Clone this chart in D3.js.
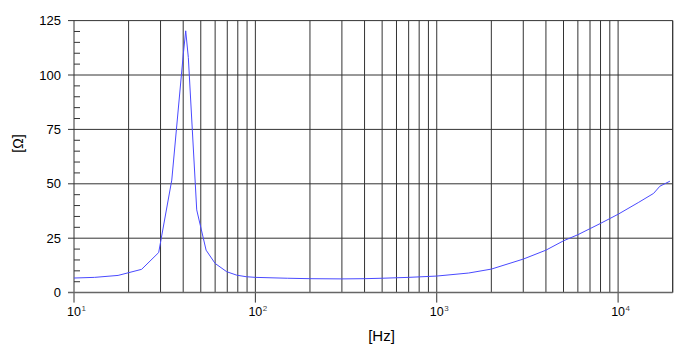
<!DOCTYPE html>
<html><head><meta charset="utf-8">
<script src="https://cdn.jsdelivr.net/npm/d3@7"></script>
<style>body{margin:0;background:#fff}svg{display:block}text{font-family:"Liberation Sans",Arial,sans-serif}</style>
</head><body>
<svg id="c" width="688" height="360"></svg>
<script>
const freq = [10, 13, 17.5, 23.6, 29.3, 34.6, 40.1, 41.3, 42.7, 47.5, 53.5, 60, 69.5, 79, 89, 100, 150, 200, 300, 400, 500, 700, 1000, 1500, 2000, 3000, 4000, 5000, 6000, 8000, 10000, 13000, 15700, 17000, 19300];
const impedance = [6.7, 7.0, 7.9, 10.7, 18.4, 51.7, 110, 120.3, 108, 38, 19.5, 13.4, 9.6, 8.0, 7.3, 7.0, 6.6, 6.4, 6.3, 6.4, 6.6, 7.0, 7.6, 9.0, 10.8, 15.4, 19.5, 23.8, 26.6, 31.8, 36, 41.5, 45.6, 48.9, 51.2];
const yTicks = [0, 25, 50, 75, 100, 125];
const xDecades = [1, 2, 3, 4];
const xLabel = "[Hz]";
const yLabel = "[Ω]";

const svg = d3.select("#c");
const L = 74, R = 672.7, T = 20.6, B = 292.6;
const x = d3.scaleLog().domain([10, 20000]).range([L, R]);
const y = d3.scaleLinear().domain([0, 125]).range([B, T]);
const gridCol = "#333";

// vertical grid lines
const vLines = [];
for (let d = 1; d <= 4; d++) for (let m = 1; m <= 9; m++) { const f = m * Math.pow(10, d); if (f <= 20000) vLines.push(f); }
vLines.push(20000);
svg.append("g").selectAll("line").data(vLines).join("line")
  .attr("x1", d => x(d)).attr("x2", d => x(d))
  .attr("y1", T).attr("y2", d => xDecades.some(e => Math.abs(d - Math.pow(10, e)) < 1e-6) ? B + 10 : B)
  .attr("stroke", gridCol).attr("stroke-width", 1);

// horizontal grid
svg.append("g").selectAll("line").data(yTicks).join("line")
  .attr("x1", L - 6).attr("x2", R).attr("y1", d => y(d)).attr("y2", d => y(d))
  .attr("stroke", d => d === 0 ? "#666" : gridCol).attr("stroke-width", d => d === 0 ? 1.5 : 1);

// minor y ticks
const minor = d3.range(5, 125, 5).filter(v => v % 25 !== 0);
svg.append("g").selectAll("line").data(minor).join("line")
  .attr("x1", L).attr("x2", L + 6).attr("y1", d => y(d)).attr("y2", d => y(d))
  .attr("stroke", gridCol).attr("stroke-width", 1);

// y labels
svg.append("g").selectAll("text").data(yTicks).join("text")
  .attr("x", L - 13).attr("y", d => y(d)).attr("dy", "0.36em")
  .attr("text-anchor", "end").attr("font-size", 13).attr("fill", "#000").text(d => d);

// x labels
const xl = svg.append("g").selectAll("g").data(xDecades).join("g")
  .attr("transform", d => `translate(${x(Math.pow(10, d))},316)`);
xl.append("text").attr("text-anchor", "middle").attr("font-size", 12.5).attr("fill", "#000").text("10");
xl.append("text").attr("x", 7.5).attr("y", -5).attr("font-size", 8).attr("fill", "#444").text(d => d);

svg.append("text").attr("x", 381.5).attr("y", 341).attr("text-anchor", "middle").attr("font-size", 15).text(xLabel);
svg.append("text").attr("transform", "translate(22.5,143.5) rotate(-90)").attr("text-anchor", "middle")
  .attr("font-size", 14).text(yLabel);

const line = d3.line().x((d, i) => x(freq[i])).y(d => y(d));
svg.append("path").datum(impedance).attr("d", line)
  .attr("fill", "none").attr("stroke", "#4a4aff").attr("stroke-width", 1);
</script>
</body></html>
